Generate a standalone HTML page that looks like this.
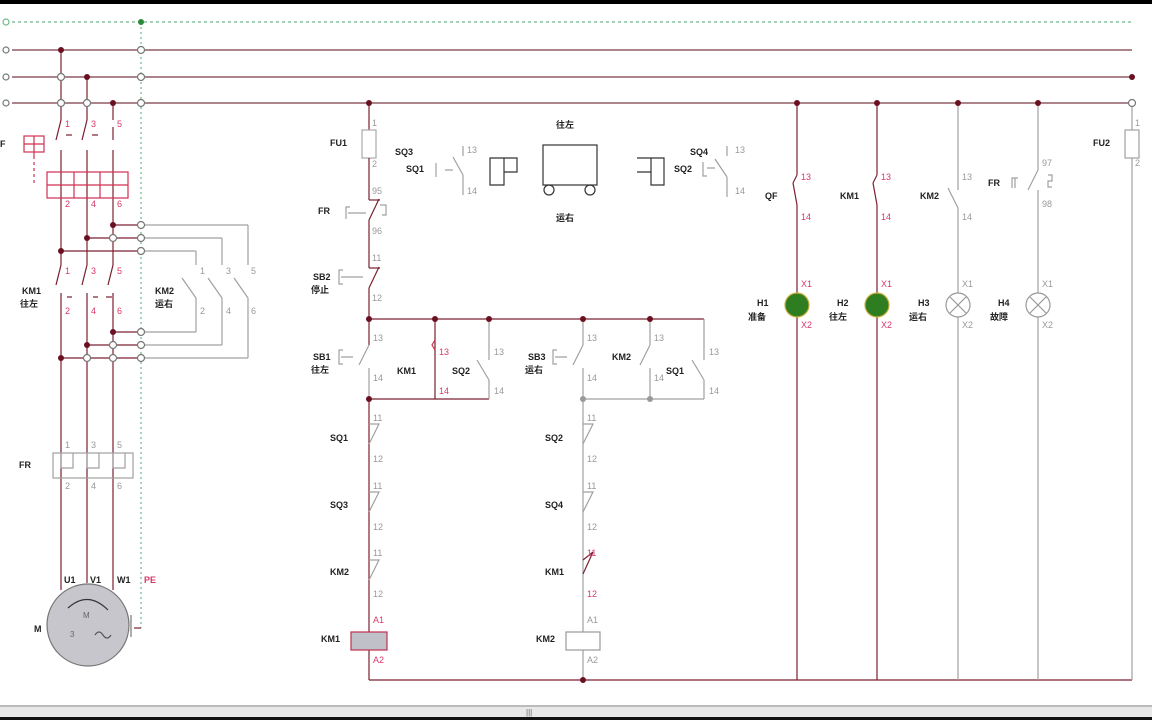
<!DOCTYPE html>
<html><head><meta charset="utf-8"><style>
html,body{margin:0;padding:0;background:#fff;width:1152px;height:720px;overflow:hidden}
svg{display:block}
text{font-family:"Liberation Sans","Noto Sans CJK SC",sans-serif}
.l{font-size:9px;font-weight:bold;fill:#222}
.n{font-size:9px;fill:#999}
.r{font-size:9px;fill:#d8386a}
</style></head><body>
<svg width="1152" height="720" viewBox="0 0 1152 720" xmlns="http://www.w3.org/2000/svg">
<rect x="0" y="0" width="1152" height="4" fill="#000"/>
<rect x="0" y="705" width="1152" height="15" fill="#e8e8e8"/>
<rect x="0" y="705" width="1152" height="2" fill="#bbb"/>
<rect x="0" y="717" width="1152" height="3" fill="#111"/>
<text x="526" y="715" font-size="8" fill="#666">|||</text>
<g fill="none" stroke-width="1.2">
<line x1="12" y1="22" x2="1132" y2="22" stroke="#6cb88a" stroke-dasharray="3,3"/>
<line x1="141" y1="22" x2="141" y2="628" stroke="#6cb88a" stroke-dasharray="2,3"/>
<line x1="141" y1="628" x2="134" y2="628" stroke="#7a2030"/>
<line x1="12" y1="50" x2="1132" y2="50" stroke="#7a3a48"/>
<line x1="12" y1="77" x2="1132" y2="77" stroke="#7a3a48"/>
<line x1="12" y1="103" x2="1132" y2="103" stroke="#7a3a48"/>
<g stroke="#7a2030">
<line x1="61" y1="50" x2="61" y2="120"/><line x1="87" y1="77" x2="87" y2="120"/><line x1="113" y1="103" x2="113" y2="120"/>
<line x1="61" y1="120" x2="56" y2="140"/><line x1="87" y1="120" x2="82" y2="140"/><line x1="113" y1="127" x2="113" y2="140"/>
<line x1="61" y1="150" x2="61" y2="265"/><line x1="87" y1="150" x2="87" y2="265"/><line x1="113" y1="150" x2="113" y2="265"/>
<line x1="61" y1="265" x2="56" y2="285"/><line x1="87" y1="265" x2="82" y2="285"/><line x1="113" y1="265" x2="108" y2="285"/>
<line x1="61" y1="293" x2="61" y2="590"/><line x1="87" y1="293" x2="87" y2="583"/><line x1="113" y1="293" x2="113" y2="590"/>
<line x1="66" y1="135" x2="72" y2="135"/><line x1="92" y1="135" x2="98" y2="135"/>
<line x1="67" y1="297" x2="72" y2="297"/><line x1="93" y1="297" x2="98" y2="297"/><line x1="106" y1="297" x2="112" y2="297"/>
<line x1="87" y1="238" x2="141" y2="238"/><line x1="113" y1="225" x2="141" y2="225"/><line x1="61" y1="251" x2="141" y2="251"/>
<line x1="113" y1="332" x2="141" y2="332"/><line x1="87" y1="345" x2="141" y2="345"/><line x1="61" y1="358" x2="141" y2="358"/>
<rect x="47" y="172" width="81" height="26" stroke="#d03050"/>
<line x1="47" y1="185" x2="128" y2="185" stroke="#d03050"/>
<line x1="74" y1="172" x2="74" y2="198" stroke="#d03050"/><line x1="100" y1="172" x2="100" y2="198" stroke="#d03050"/>
<rect x="24" y="136" width="20" height="16" stroke="#d03050"/><line x1="34" y1="136" x2="34" y2="156" stroke="#d03050"/><line x1="24" y1="144" x2="44" y2="144" stroke="#d03050"/>
<line x1="34" y1="156" x2="34" y2="185" stroke="#d03050" stroke-dasharray="3,3"/>
</g>
<g stroke="#a0a0a0">
<line x1="141" y1="225" x2="248" y2="225"/><line x1="248" y1="225" x2="248" y2="265"/>
<line x1="141" y1="238" x2="222" y2="238"/><line x1="222" y1="238" x2="222" y2="265"/>
<line x1="141" y1="251" x2="196" y2="251"/><line x1="196" y1="251" x2="196" y2="265"/>
<line x1="196" y1="298" x2="182" y2="278"/><line x1="222" y1="298" x2="208" y2="278"/><line x1="248" y1="298" x2="234" y2="278"/>
<line x1="196" y1="298" x2="196" y2="332"/><line x1="222" y1="298" x2="222" y2="345"/><line x1="248" y1="298" x2="248" y2="358"/>
<line x1="141" y1="332" x2="196" y2="332"/><line x1="141" y1="345" x2="222" y2="345"/><line x1="141" y1="358" x2="248" y2="358"/>
<rect x="53" y="453" width="80" height="25"/>
<path d="M61 453v15h12v-15M87 453v15h12v-15M113 453v15h12v-15"/>
</g>
<circle cx="88" cy="625" r="41" fill="#c6c6cc" stroke="#777"/>
<path d="M68 608 Q88 590 108 610" stroke="#333"/>
<path d="M95 635 q4 -6 8 0 q4 6 8 0" stroke="#555"/>
<path d="M131 615 v22" stroke="#777"/>
<g stroke="#7a2030">
<line x1="369" y1="103" x2="369" y2="130"/><rect x="362" y="130" width="14" height="28" stroke="#aaa"/>
<line x1="369" y1="158" x2="369" y2="200"/><line x1="369" y1="200" x2="380" y2="200"/><line x1="379" y1="199" x2="369" y2="220"/>
<line x1="369" y1="220" x2="369" y2="268"/><line x1="369" y1="268" x2="380" y2="268"/><line x1="379" y1="267" x2="369" y2="288"/>
<line x1="369" y1="288" x2="369" y2="345"/>
<line x1="369" y1="319" x2="704" y2="319"/>
<line x1="435" y1="319" x2="435" y2="399"/><line x1="369" y1="399" x2="489" y2="399"/>
<line x1="369" y1="399" x2="369" y2="632"/>
<line x1="369" y1="650" x2="369" y2="680"/><line x1="369" y1="680" x2="1132" y2="680"/>
<line x1="797" y1="103" x2="797" y2="175"/><line x1="797" y1="175" x2="793" y2="183"/><line x1="793" y1="183" x2="797" y2="205"/><line x1="797" y1="205" x2="797" y2="680"/>
<line x1="877" y1="103" x2="877" y2="175"/><line x1="877" y1="175" x2="873" y2="183"/><line x1="873" y1="183" x2="877" y2="205"/><line x1="877" y1="205" x2="877" y2="680"/>
</g>
<path d="M435 340 l-3 5 l3 5" stroke="#d03050"/>
<g stroke="#a0a0a0">
<line x1="369" y1="345" x2="359" y2="365"/><line x1="369" y1="368" x2="369" y2="399"/>
<path d="M343 350 h-4 v14 h4 M341 357 h12"/>
<line x1="489" y1="319" x2="489" y2="360"/><line x1="489" y1="399" x2="489" y2="380"/><line x1="489" y1="380" x2="477" y2="360"/>
<line x1="583" y1="319" x2="583" y2="345"/><line x1="583" y1="345" x2="573" y2="365"/><line x1="583" y1="368" x2="583" y2="632"/>
<path d="M557 350 h-4 v14 h4 M555 357 h12"/>
<line x1="650" y1="319" x2="650" y2="345"/><line x1="650" y1="345" x2="640" y2="365"/><line x1="650" y1="368" x2="650" y2="399"/>
<line x1="704" y1="319" x2="704" y2="360"/><line x1="704" y1="380" x2="692" y2="360"/><line x1="704" y1="380" x2="704" y2="399"/>
<line x1="583" y1="399" x2="704" y2="399"/>
<line x1="583" y1="650" x2="583" y2="680"/>
<line x1="958" y1="103" x2="958" y2="190"/><line x1="958" y1="208" x2="948" y2="188"/><line x1="958" y1="208" x2="958" y2="680"/>
<line x1="1038" y1="103" x2="1038" y2="170"/><line x1="1038" y1="170" x2="1028" y2="190"/><line x1="1038" y1="190" x2="1038" y2="680"/>
<path d="M1018 178 h-6 v10 M1015 178 v10"/><path d="M1048 175 l4 0 0 6 -4 0 0 6 4 0"/>
<line x1="1132" y1="103" x2="1132" y2="130"/><rect x="1125" y="130" width="14" height="28"/><line x1="1132" y1="158" x2="1132" y2="680"/>
<path d="M350 207 h-4 v12 M348 213 h18"/><path d="M380 205 h6 v10 h-4"/>
<path d="M343 270 h-4 v14 h4 M341 277 h22"/>
<path d="M369 424 h10 l-10 20 M583 424 h10 l-10 20 M369 492 h10 l-10 20 M583 492 h10 l-10 20 M369 560 h10 l-10 20"/>
<path d="M463 146 v10 M463 175 l-10 -18 M463 175 v20 M445 170 h8 M436 163 v14 M727 146 v10 M727 177 l-12 -18 M727 177 v20 M707 168 h8 M703 162 v14 h4"/>
<rect x="543" y="145" width="54" height="40" stroke="#333"/>
<circle cx="549" cy="190" r="5" stroke="#333"/><circle cx="590" cy="190" r="5" stroke="#333"/>
<path d="M490 158 h14 v27 h-14z M504 158 h13 v14 h-13" stroke="#333"/>
<path d="M651 158 h13 v27 h-13z M637 158 h14 v14 h-14" stroke="#333"/>
</g>
<path d="M583 560 l10 -8 M593 552 l-10 22" stroke="#7a2030"/>
<rect x="351" y="632" width="36" height="18" fill="#c0c0c8" stroke="#c03050"/>
<rect x="566" y="632" width="34" height="18" fill="#fff" stroke="#999"/>
<circle cx="797" cy="305" r="12" fill="#2e7d20" stroke="#c8b040"/>
<circle cx="877" cy="305" r="12" fill="#2e7d20" stroke="#c8b040"/>
<circle cx="958" cy="305" r="12" fill="#fff" stroke="#999"/><path d="M950 297 l16 16 M966 297 l-16 16" stroke="#999"/>
<circle cx="1038" cy="305" r="12" fill="#fff" stroke="#999"/><path d="M1030 297 l16 16 M1046 297 l-16 16" stroke="#999"/>
</g>
<g fill="#fff" stroke="#777" stroke-width="1.2">
<circle cx="6" cy="22" r="3" stroke="#6cb88a"/><circle cx="6" cy="50" r="3"/><circle cx="6" cy="77" r="3"/><circle cx="6" cy="103" r="3"/>
<circle cx="141" cy="50" r="3.5"/><circle cx="61" cy="77" r="3.5"/><circle cx="141" cy="77" r="3.5"/><circle cx="61" cy="103" r="3.5"/><circle cx="87" cy="103" r="3.5"/><circle cx="141" cy="103" r="3.5"/>
<circle cx="141" cy="225" r="3.5"/><circle cx="141" cy="238" r="3.5"/><circle cx="113" cy="238" r="3.5"/><circle cx="141" cy="251" r="3.5"/>
<circle cx="141" cy="332" r="3.5"/><circle cx="141" cy="345" r="3.5"/><circle cx="113" cy="345" r="3.5"/><circle cx="141" cy="358" r="3.5"/><circle cx="113" cy="358" r="3.5"/><circle cx="87" cy="358" r="3.5"/>
<circle cx="1132" cy="103" r="3.5"/>
</g>
<g fill="#6a1020">
<circle cx="141" cy="22" r="3" fill="#2a8a3a"/><circle cx="61" cy="50" r="3"/><circle cx="87" cy="77" r="3"/><circle cx="113" cy="103" r="3"/><circle cx="1132" cy="77" r="3"/>
<circle cx="113" cy="225" r="3"/><circle cx="87" cy="238" r="3"/><circle cx="61" cy="251" r="3"/><circle cx="113" cy="332" r="3"/><circle cx="87" cy="345" r="3"/><circle cx="61" cy="358" r="3"/>
<circle cx="369" cy="103" r="3"/><circle cx="797" cy="103" r="3"/><circle cx="877" cy="103" r="3"/><circle cx="958" cy="103" r="3"/><circle cx="1038" cy="103" r="3"/>
<circle cx="369" cy="319" r="3"/><circle cx="435" cy="319" r="3"/><circle cx="489" cy="319" r="3"/><circle cx="583" cy="319" r="3"/><circle cx="650" cy="319" r="3"/>
<circle cx="369" cy="399" r="3"/><circle cx="583" cy="680" r="3"/>
<circle cx="583" cy="399" r="3" fill="#999"/><circle cx="650" cy="399" r="3" fill="#999"/>
</g>
<text class="l" x="0" y="147">F</text>
<text class="r" x="65" y="127">1</text><text class="r" x="91" y="127">3</text><text class="r" x="117" y="127">5</text>
<text class="r" x="65" y="207">2</text><text class="r" x="91" y="207">4</text><text class="r" x="117" y="207">6</text>
<text class="r" x="65" y="274">1</text><text class="r" x="91" y="274">3</text><text class="r" x="117" y="274">5</text>
<text class="r" x="65" y="314">2</text><text class="r" x="91" y="314">4</text><text class="r" x="117" y="314">6</text>
<text class="l" x="22" y="294">KM1</text><text class="l" x="20" y="307">往左</text>
<text class="l" x="155" y="294">KM2</text><text class="l" x="155" y="307">运右</text>
<text class="n" x="200" y="274">1</text><text class="n" x="226" y="274">3</text><text class="n" x="251" y="274">5</text>
<text class="n" x="200" y="314">2</text><text class="n" x="226" y="314">4</text><text class="n" x="251" y="314">6</text>
<text class="n" x="65" y="448">1</text><text class="n" x="91" y="448">3</text><text class="n" x="117" y="448">5</text>
<text class="n" x="65" y="489">2</text><text class="n" x="91" y="489">4</text><text class="n" x="117" y="489">6</text>
<text class="l" x="19" y="468">FR</text>
<text class="l" x="64" y="583">U1</text><text class="l" x="90" y="583">V1</text><text class="l" x="117" y="583">W1</text><text class="r" x="144" y="583" style="font-weight:bold">PE</text>
<text class="l" x="34" y="632">M</text><text x="83" y="618" font-size="8" fill="#666">M</text><text x="70" y="637" font-size="8" fill="#666">3</text>
<text class="n" x="372" y="126">1</text><text class="n" x="372" y="167">2</text><text class="l" x="330" y="146">FU1</text>
<text class="n" x="372" y="194">95</text><text class="n" x="372" y="234">96</text><text class="l" x="318" y="214">FR</text>
<text class="n" x="372" y="261">11</text><text class="n" x="372" y="301">12</text><text class="l" x="313" y="280">SB2</text><text class="l" x="311" y="293">停止</text>
<text class="n" x="373" y="341">13</text><text class="n" x="373" y="381">14</text><text class="l" x="313" y="360">SB1</text><text class="l" x="311" y="373">往左</text>
<text class="l" x="397" y="374">KM1</text><text class="r" x="439" y="355">13</text><text class="r" x="439" y="394">14</text>
<text class="l" x="452" y="374">SQ2</text><text class="n" x="494" y="355">13</text><text class="n" x="494" y="394">14</text>
<text class="l" x="528" y="360">SB3</text><text class="l" x="525" y="373">运右</text><text class="n" x="587" y="341">13</text><text class="n" x="587" y="381">14</text>
<text class="l" x="612" y="360">KM2</text><text class="n" x="654" y="341">13</text><text class="n" x="654" y="381">14</text>
<text class="l" x="666" y="374">SQ1</text><text class="n" x="709" y="355">13</text><text class="n" x="709" y="394">14</text>
<text class="n" x="373" y="421">11</text><text class="n" x="373" y="462">12</text><text class="l" x="330" y="441">SQ1</text>
<text class="n" x="373" y="489">11</text><text class="n" x="373" y="530">12</text><text class="l" x="330" y="508">SQ3</text>
<text class="n" x="373" y="556">11</text><text class="n" x="373" y="597">12</text><text class="l" x="330" y="575">KM2</text>
<text class="r" x="373" y="623">A1</text><text class="r" x="373" y="663">A2</text><text class="l" x="321" y="642">KM1</text>
<text class="n" x="587" y="421">11</text><text class="n" x="587" y="462">12</text><text class="l" x="545" y="441">SQ2</text>
<text class="n" x="587" y="489">11</text><text class="n" x="587" y="530">12</text><text class="l" x="545" y="508">SQ4</text>
<text class="r" x="587" y="556">11</text><text class="r" x="587" y="597">12</text><text class="l" x="545" y="575">KM1</text>
<text class="n" x="587" y="623">A1</text><text class="n" x="587" y="663">A2</text><text class="l" x="536" y="642">KM2</text>
<text class="l" x="395" y="155">SQ3</text><text class="l" x="406" y="172">SQ1</text><text class="n" x="467" y="153">13</text><text class="n" x="467" y="194">14</text>
<text class="l" x="556" y="128">往左</text><text class="l" x="556" y="221">运右</text>
<text class="l" x="690" y="155">SQ4</text><text class="l" x="674" y="172">SQ2</text><text class="n" x="735" y="153">13</text><text class="n" x="735" y="194">14</text>
<text class="r" x="801" y="180">13</text><text class="r" x="801" y="220">14</text><text class="l" x="765" y="199">QF</text>
<text class="r" x="881" y="180">13</text><text class="r" x="881" y="220">14</text><text class="l" x="840" y="199">KM1</text>
<text class="n" x="962" y="180">13</text><text class="n" x="962" y="220">14</text><text class="l" x="920" y="199">KM2</text>
<text class="n" x="1042" y="166">97</text><text class="n" x="1042" y="207">98</text><text class="l" x="988" y="186">FR</text>
<text class="n" x="1135" y="126">1</text><text class="n" x="1135" y="166">2</text><text class="l" x="1093" y="146">FU2</text>
<text class="r" x="801" y="287">X1</text><text class="r" x="801" y="328">X2</text><text class="l" x="757" y="306">H1</text><text class="l" x="748" y="320">准备</text>
<text class="r" x="881" y="287">X1</text><text class="r" x="881" y="328">X2</text><text class="l" x="837" y="306">H2</text><text class="l" x="829" y="320">往左</text>
<text class="n" x="962" y="287">X1</text><text class="n" x="962" y="328">X2</text><text class="l" x="918" y="306">H3</text><text class="l" x="909" y="320">运右</text>
<text class="n" x="1042" y="287">X1</text><text class="n" x="1042" y="328">X2</text><text class="l" x="998" y="306">H4</text><text class="l" x="990" y="320">故障</text>
</svg>
</body></html>
